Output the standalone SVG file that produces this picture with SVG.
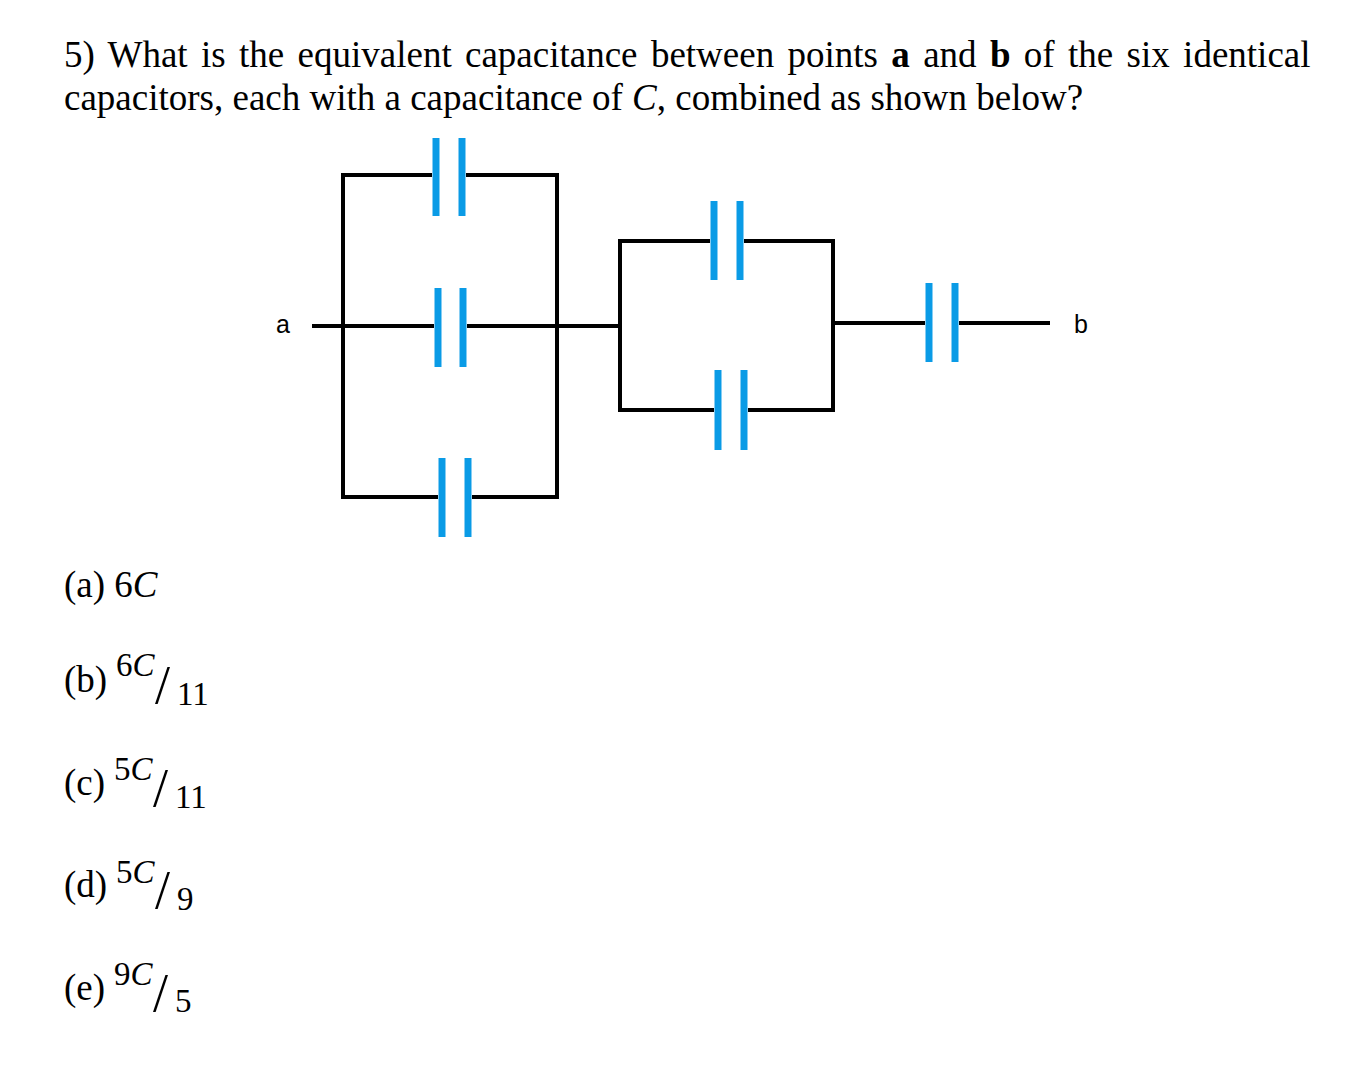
<svg xmlns="http://www.w3.org/2000/svg" width="1366" height="1082" viewBox="0 0 1366 1082">
<style>
.t{font-family:"Liberation Serif",serif;font-size:37px;fill:#000}
.m{font-family:"Liberation Serif",serif;font-size:33px;fill:#000}
.s{font-family:"Liberation Serif",serif;font-size:54px;fill:#000}
.l{font-family:"Liberation Sans",sans-serif;font-size:25px;fill:#000}
.w{stroke:#000;stroke-width:4;fill:none}
.c{stroke:#0a9be6;stroke-width:7}
</style>
<rect width="1366" height="1082" fill="#fff"/>
<g id="question">
<text class="t" x="64" y="67" word-spacing="4.1">5) What is the equivalent capacitance between points <tspan font-weight="bold">a</tspan> and <tspan font-weight="bold">b</tspan> of the six identical</text>
<text class="t" x="64" y="110">capacitors, each with a capacitance of <tspan font-style="italic">C</tspan>, combined as shown below?</text>
</g>
<g id="connectors">
<polyline class="w" points="432,175 343,175 343,497 438,497"/>
<polyline class="w" points="466,175 557,175 557,497 472,497"/>
<line class="w" x1="312" y1="326" x2="434" y2="326"/>
<line class="w" x1="467" y1="326" x2="620" y2="326"/>
<polyline class="w" points="710,241 620,241 620,410 714,410"/>
<polyline class="w" points="744,241 833,241 833,410 748,410"/>
<line class="w" x1="833" y1="323" x2="925" y2="323"/>
<line class="w" x1="959" y1="323" x2="1050" y2="323"/>
</g>
<g id="capacitors">
<line class="c" x1="436" y1="138" x2="436" y2="216"/><line class="c" x1="462" y1="138" x2="462" y2="216"/>
<line class="c" x1="438" y1="288" x2="438" y2="367"/><line class="c" x1="463" y1="288" x2="463" y2="367"/>
<line class="c" x1="442" y1="458" x2="442" y2="537"/><line class="c" x1="468" y1="458" x2="468" y2="537"/>
<line class="c" x1="714" y1="201" x2="714" y2="280"/><line class="c" x1="740" y1="201" x2="740" y2="280"/>
<line class="c" x1="718" y1="370" x2="718" y2="450"/><line class="c" x1="744" y1="370" x2="744" y2="450"/>
<line class="c" x1="929" y1="283" x2="929" y2="362"/><line class="c" x1="955" y1="283" x2="955" y2="362"/>
</g>
<g id="labels">
<text class="l" x="276" y="333">a</text>
<text class="l" x="1074" y="333">b</text>
</g>
<g id="answers">
<text class="t" x="64" y="597">(a) 6<tspan font-style="italic">C</tspan></text>
<text class="t" x="64" y="692">(b)</text>
<text class="m" x="116" y="676">6<tspan font-style="italic">C</tspan></text>
<text class="s" x="155" y="703">/</text>
<text class="m" x="177" y="705">11</text>
<text class="t" x="64" y="795">(c)</text>
<text class="m" x="114" y="780">5<tspan font-style="italic">C</tspan></text>
<text class="s" x="153" y="806">/</text>
<text class="m" x="175" y="808">11</text>
<text class="t" x="64" y="897">(d)</text>
<text class="m" x="116" y="883">5<tspan font-style="italic">C</tspan></text>
<text class="s" x="155" y="908">/</text>
<text class="m" x="177" y="910">9</text>
<text class="t" x="64" y="1000">(e)</text>
<text class="m" x="114" y="985">9<tspan font-style="italic">C</tspan></text>
<text class="s" x="153" y="1011">/</text>
<text class="m" x="175" y="1012">5</text>
</g>
</svg>
